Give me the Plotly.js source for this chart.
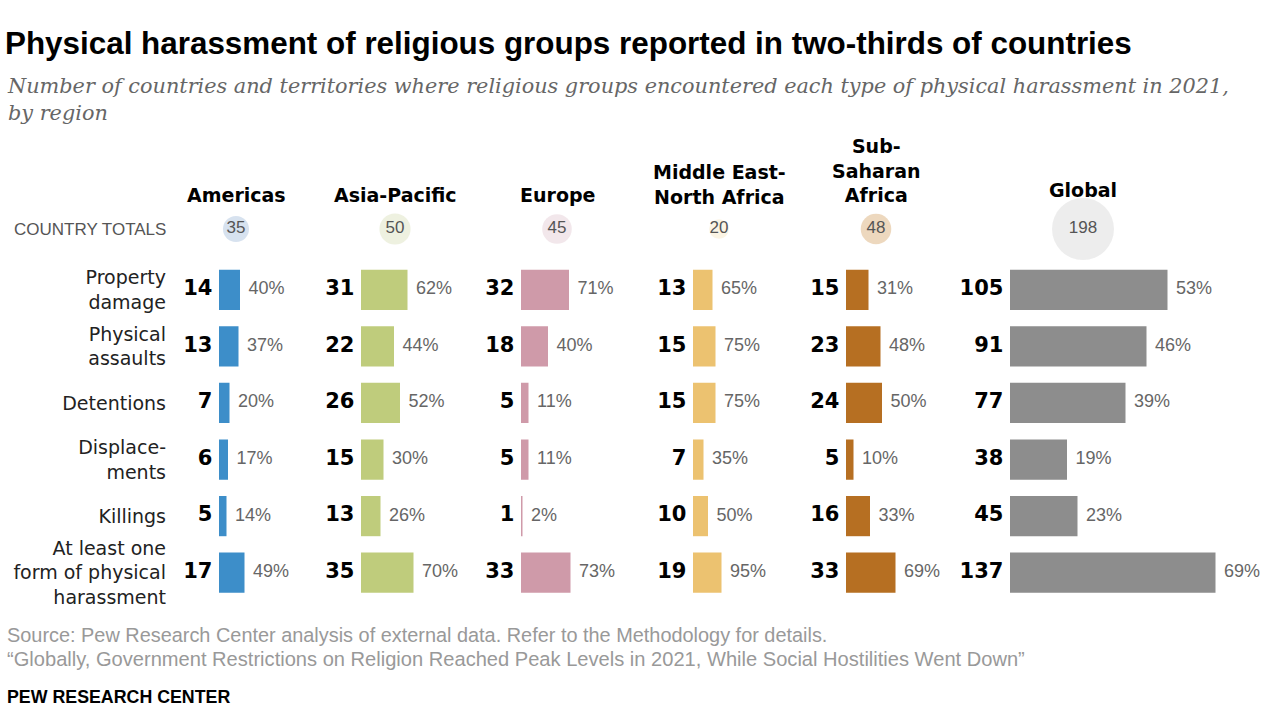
<!DOCTYPE html>
<html>
<head>
<meta charset="utf-8">
<script src="https://cdn.plot.ly/plotly-3.0.1.min.js"></script>
<style>html,body{margin:0;padding:0;background:#fff;}#chart{width:1275px;height:725px;}</style>
</head>
<body>
<div id="chart"></div>
<script>
// ---------- DATA ----------
const categories = ['Property<br>damage', 'Physical<br>assaults', 'Detentions', 'Displace-<br>ments', 'Killings', 'At least one<br>form of physical<br>harassment'];
const regions = ['Americas', 'Asia-Pacific', 'Europe', 'Middle East-<br>North Africa', 'Sub-<br>Saharan<br>Africa', 'Global'];
const countryTotals = [35, 50, 45, 20, 48, 198];

const americasCounts = [14, 13, 7, 6, 5, 17];
const americasPct    = [40, 37, 20, 17, 14, 49];
const asiaCounts     = [31, 22, 26, 15, 13, 35];
const asiaPct        = [62, 44, 52, 30, 26, 70];
const europeCounts   = [32, 18, 5, 5, 1, 33];
const europePct      = [71, 40, 11, 11, 2, 73];
const menaCounts     = [13, 15, 15, 7, 10, 19];
const menaPct        = [65, 75, 75, 35, 50, 95];
const ssaCounts      = [15, 23, 24, 5, 16, 33];
const ssaPct         = [31, 48, 50, 10, 33, 69];
const globalCounts   = [105, 91, 77, 38, 45, 137];
const globalPct      = [53, 46, 39, 19, 23, 69];

// ---------- LAYOUT / STYLE ----------
const W = 1275, H = 725;
const seriesCounts = [americasCounts, asiaCounts, europeCounts, menaCounts, ssaCounts, globalCounts];
const seriesPct = [americasPct, asiaPct, europePct, menaPct, ssaPct, globalPct];
const barColors = ['#3d8ec9', '#bfcc7c', '#cf9aa9', '#ecc270', '#b66f22', '#8d8d8d'];
const circleColors = ['#c6d5e8', '#e7ebd3', '#ecdde2', '#faefd8', '#e6c7a3', '#e5e5e5'];
const panelStart = [219, 361, 521, 693, 846, 1010];   // px where each panel's zero sits
const panelWidth = [130, 130, 150, 130, 130, 255];
const pxPerUnit = 1.5;
const panelCenter = [236, 395, 557, 719, 876, 1083];
const titleBottom = [208, 208, 208, 210, 208, 203];
const rowTop = 261.5, rowBottom = 601;
const wideFont = 'DejaVu Sans, Verdana, sans-serif';
const baseFont = 'Liberation Sans, Arial, sans-serif';

const traces = [];
const layout = {
  width: W, height: H,
  margin: {l: 0, r: 0, t: 0, b: 0},
  paper_bgcolor: '#fff', plot_bgcolor: 'rgba(0,0,0,0)',
  showlegend: false,
  hovermode: false,
  bargap: 0.29,
  font: {family: baseFont, color: '#222'},
  title: {
    text: 'Physical harassment of religious groups reported in two-thirds of countries',
    font: {family: baseFont, size: 31.4, weight: 700, color: '#000'},
    x: 5 / W, xanchor: 'left', xref: 'paper',
    y: 1 - 43 / H, yanchor: 'middle', yref: 'container'
  },
  yaxis: {
    type: 'category', categoryorder: 'array', categoryarray: categories,
    range: [5.5, -0.5],
    domain: [1 - rowBottom / H, 1 - rowTop / H],
    anchor: 'free', position: 166 / W,
    showgrid: false, zeroline: false, showline: false, ticks: '',
    tickfont: {family: wideFont, size: 19, color: '#222'}
  },
  xaxis7: {domain: [0, 1], range: [0, W], visible: false, anchor: 'y7', fixedrange: true},
  yaxis7: {domain: [0, 1], range: [H, 0], visible: false, anchor: 'x7', fixedrange: true},
  annotations: [],
  shapes: []
};

for (let i = 0; i < 6; i++) {
  const ax = i === 0 ? 'x' : 'x' + (i + 1);
  const axName = i === 0 ? 'xaxis' : 'xaxis' + (i + 1);
  layout[axName] = {
    domain: [panelStart[i] / W, (panelStart[i] + panelWidth[i]) / W],
    range: [0, panelWidth[i] / pxPerUnit],
    visible: false, anchor: 'y', fixedrange: true
  };
  traces.push({
    type: 'bar', orientation: 'h',
    x: seriesCounts[i], y: categories,
    xaxis: ax, yaxis: 'y',
    marker: {color: barColors[i], line: {width: 0}},
    hoverinfo: 'skip'
  });
  // count labels (left of bar)
  traces.push({
    type: 'scatter', mode: 'markers+text',
    x: seriesCounts[i].map(() => 0), y: categories,
    xaxis: ax, yaxis: 'y',
    marker: {size: 9, opacity: 0},
    text: seriesCounts[i].map(String),
    textposition: 'middle left',
    textfont: {size: 21, weight: 700, color: '#000', family: wideFont},
    hoverinfo: 'skip', cliponaxis: false
  });
  // percent labels (right of bar)
  traces.push({
    type: 'scatter', mode: 'markers+text',
    x: seriesCounts[i], y: categories,
    xaxis: ax, yaxis: 'y',
    marker: {size: 12, opacity: 0},
    text: seriesPct[i].map(v => v + '%'),
    textposition: 'middle right',
    textfont: {size: 18, color: '#666', family: baseFont},
    hoverinfo: 'skip', cliponaxis: false
  });
  layout.annotations.push({
    xref: 'x7', yref: 'y7', x: panelCenter[i], y: titleBottom[i],
    xanchor: 'center', yanchor: 'bottom', showarrow: false, align: 'center',
    text: regions[i],
    font: {size: 19, weight: 700, color: '#000', family: wideFont}
  });
}

// country total circles (area ~ total)
const maxDiam = 62;
traces.push({
  type: 'scatter', mode: 'markers+text',
  x: panelCenter, y: countryTotals.map(() => 229),
  xaxis: 'x7', yaxis: 'y7',
  marker: {size: countryTotals, sizemode: 'area', sizeref: 2 * Math.max(...countryTotals) / (maxDiam * maxDiam),
           color: circleColors, line: {width: 0}},
  text: countryTotals.map(String), textposition: 'middle center',
  textfont: {size: 17, color: '#555', family: baseFont},
  hoverinfo: 'skip', cliponaxis: false
});

layout.annotations.push(
  {xref: 'x7', yref: 'y7', x: 5, y: 72, xanchor: 'left', yanchor: 'top', align: 'left', showarrow: false,
   text: 'Number of countries and territories where religious groups encountered each type of physical harassment in 2021,<br>by region',
   font: {family: 'DejaVu Serif, serif', style: 'italic', size: 20.8, color: '#666'}},
  {xref: 'x7', yref: 'y7', x: 12, y: 229, xanchor: 'left', yanchor: 'middle', showarrow: false,
   text: 'COUNTRY TOTALS', font: {size: 17, color: '#555'}},
  {xref: 'x7', yref: 'y7', x: 5, y: 635, xanchor: 'left', yanchor: 'middle', showarrow: false,
   text: 'Source: Pew Research Center analysis of external data. Refer to the Methodology for details.',
   font: {family: baseFont, size: 19.9, color: '#999'}},
  {xref: 'x7', yref: 'y7', x: 5, y: 659, xanchor: 'left', yanchor: 'middle', showarrow: false,
   text: '\u201cGlobally, Government Restrictions on Religion Reached Peak Levels in 2021, While Social Hostilities Went Down\u201d',
   font: {family: baseFont, size: 20.1, color: '#999'}},
  {xref: 'x7', yref: 'y7', x: 5, y: 697, xanchor: 'left', yanchor: 'middle', showarrow: false,
   text: 'PEW RESEARCH CENTER',
   font: {family: baseFont, size: 17.8, weight: 700, color: '#000'}}
);

Plotly.newPlot('chart', traces, layout, {staticPlot: true, displayModeBar: false});
</script>
</body>
</html>
